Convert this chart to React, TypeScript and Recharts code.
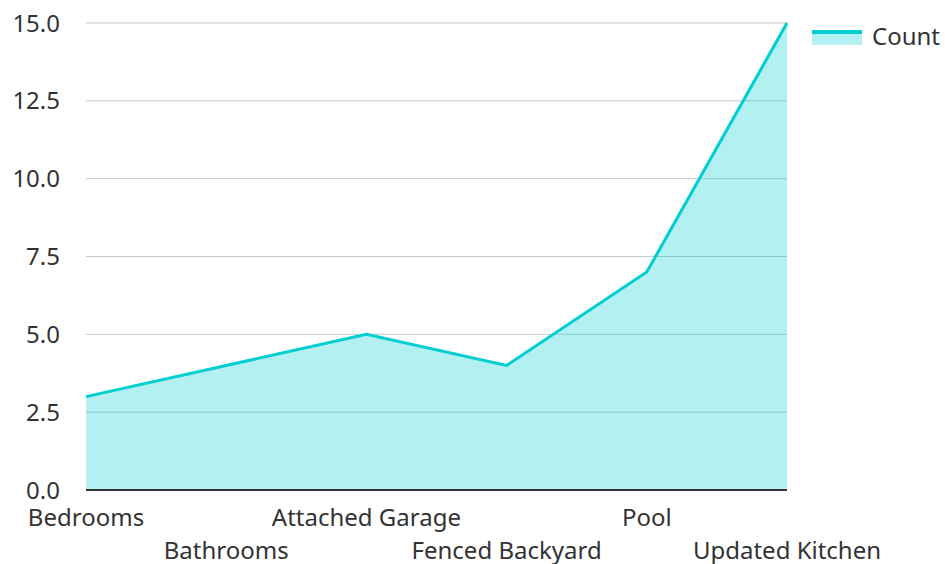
import React from 'react';
import { AreaChart, Area, XAxis, YAxis, CartesianGrid } from 'recharts';

const categories = ['Bedrooms', 'Bathrooms', 'Attached Garage', 'Fenced Backyard', 'Pool', 'Updated Kitchen'];
const counts = [3, 4, 5, 4, 7, 15];
const yTicks = [0, 2.5, 5, 7.5, 10, 12.5, 15];

const data = categories.map((name, i) => ({ name, Count: counts[i] }));

const FONT = '"Noto Sans", sans-serif';
const LINE = '#00ced1';

// labels alternate between two rows so they don't collide
const XTick = (props: any) => {
  const { x, y, payload, index } = props;
  const dy = index % 2 === 0 ? 28 : 61;
  return (
    <text x={x} y={y + dy} textAnchor="middle" fill="#333" fontSize={24} fontFamily={FONT}>
      {payload.value}
    </text>
  );
};

const LegendBox = () => (
  <div
    style={{
      position: 'absolute',
      left: 812,
      top: 19,
      display: 'flex',
      alignItems: 'center',
      fontFamily: FONT,
      fontSize: 24,
      color: '#333',
    }}
  >
    <svg width={50} height={20} style={{ marginRight: 10 }}>
      <rect x={0} y={6} width={50} height={13} fill={LINE} fillOpacity={0.3} />
      <line x1={0} x2={50} y1={6} y2={6} stroke={LINE} strokeWidth={4} />
    </svg>
    <span>Count</span>
  </div>
);

export default function App() {
  return (
    <div style={{ position: 'absolute', left: 0, top: 0, width: 945, height: 564, background: '#fff' }}>
      <AreaChart width={945} height={564} data={data} margin={{ top: 23, right: 158, left: 0, bottom: 0 }}>
        <CartesianGrid vertical={false} stroke="#c8c8c8" />
        <XAxis
          dataKey="name"
          height={74}
          interval={0}
          tick={<XTick />}
          tickLine={false}
          axisLine={{ stroke: '#333', strokeWidth: 2 }}
        />
        <YAxis
          width={86}
          domain={[0, 15]}
          ticks={yTicks}
          tickFormatter={(v: number) => v.toFixed(1)}
          axisLine={false}
          tickLine={false}
          tickMargin={20}
          tick={{ fill: '#333', fontSize: 24, fontFamily: FONT }}
        />
        <Area
          type="linear"
          dataKey="Count"
          stroke={LINE}
          strokeWidth={3}
          fill={LINE}
          fillOpacity={0.3}
          isAnimationActive={false}
        />
      </AreaChart>
      <LegendBox />
    </div>
  );
}
